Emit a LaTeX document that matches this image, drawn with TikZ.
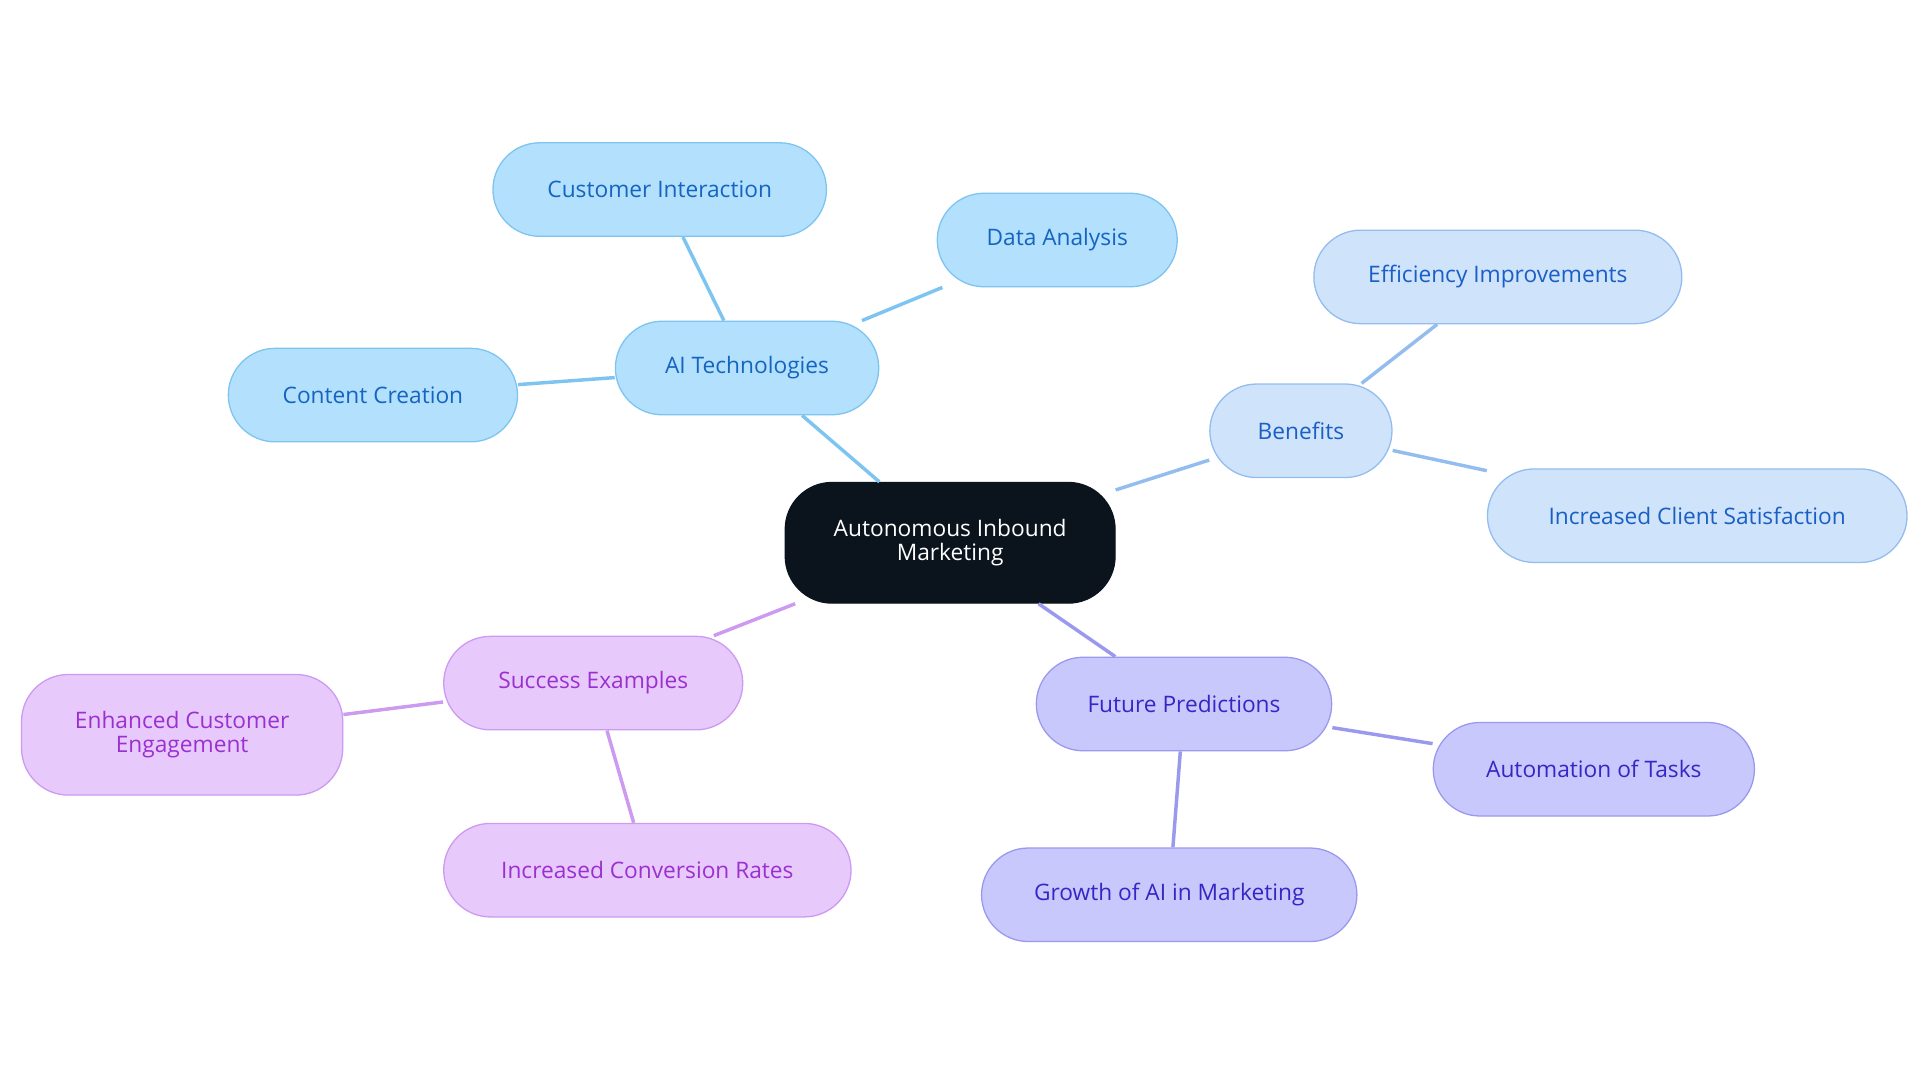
\documentclass[tikz,border=0pt]{standalone}
\usepackage{fontspec}
\setmainfont{Open Sans}
\definecolor{cfillA}{HTML}{B3E0FD}\definecolor{cdrawA}{HTML}{7EC4F0}\definecolor{ctextA}{HTML}{1565C0}
\definecolor{cfillB}{HTML}{CFE3FB}\definecolor{cdrawB}{HTML}{93BDEE}\definecolor{ctextB}{HTML}{1A5FC4}
\definecolor{cfillC}{HTML}{C9C8FD}\definecolor{cdrawC}{HTML}{9A99EE}\definecolor{ctextC}{HTML}{3527C4}
\definecolor{cfillD}{HTML}{E8C9FC}\definecolor{cdrawD}{HTML}{CC9AF0}\definecolor{ctextD}{HTML}{9B30D0}
\definecolor{cmain}{HTML}{0B131C}
\begin{document}
\begin{tikzpicture}[x=0.02cm,y=-0.02cm,
  box/.style={rounded corners=0.76cm,minimum height=1.52cm,align=center,font=\fontsize{10.5}{11}\selectfont,line width=0.6pt,inner sep=0pt},
  ba/.style={box,fill=cfillA,draw=cdrawA,text=ctextA},
  bb/.style={box,fill=cfillB,draw=cdrawB,text=ctextB},
  bc/.style={box,fill=cfillC,draw=cdrawC,text=ctextC},
  bd/.style={box,fill=cfillD,draw=cdrawD,text=ctextD},
  la/.style={line width=1.6pt,draw=cdrawA},
  lb/.style={line width=1.6pt,draw=cdrawB},
  lc/.style={line width=1.6pt,draw=cdrawC},
  ld/.style={line width=1.6pt,draw=cdrawD}]
\useasboundingbox (0,0) rectangle (1560,880);
\node[box,fill=cmain,draw=cmain,text=white,minimum width=5.36cm,minimum height=1.96cm] (m) at (772,441) {Autonomous Inbound\\Marketing};
\node[ba,minimum width=4.28cm] (ai) at (607,299) {AI Technologies};
\node[ba,minimum width=5.42cm] (ci) at (536,154) {Customer Interaction};
\node[ba,minimum width=3.9cm] (da) at (859,195) {Data Analysis};
\node[ba,minimum width=4.7cm] (cc) at (303,321) {Content Creation};
\node[bb,minimum width=2.96cm] (be) at (1057,350) {Benefits};
\node[bb,minimum width=5.98cm] (ei) at (1217,225) {Efficiency Improvements};
\node[bb,minimum width=6.82cm] (ics) at (1379,419) {Increased Client Satisfaction};
\node[bc,minimum width=4.8cm] (fp) at (962,572) {Future Predictions};
\node[bc,minimum width=5.22cm] (at) at (1295,625) {Automation of Tasks};
\node[bc,minimum width=6.1cm] (ga) at (950,727) {Growth of AI in Marketing};
\node[bd,minimum width=4.86cm] (se) at (482,555) {Success Examples};
\node[bd,minimum width=5.22cm,minimum height=1.96cm] (ece) at (148,597) {Enhanced Customer\\Engagement};
\node[bd,minimum width=6.62cm] (icr) at (526,707) {Increased Conversion Rates};
\begin{scope}[on background layer/.style={}]
\end{scope}
\begin{pgfinterruptboundingbox}\end{pgfinterruptboundingbox}
\draw[la] (m) -- (ai); \draw[la] (ai) -- (ci); \draw[la] (ai) -- (da); \draw[la] (ai) -- (cc);
\draw[lb] (m) -- (be); \draw[lb] (be) -- (ei); \draw[lb] (be) -- (ics);
\draw[lc] (m) -- (fp); \draw[lc] (fp) -- (at); \draw[lc] (fp) -- (ga);
\draw[ld] (m) -- (se); \draw[ld] (se) -- (ece); \draw[ld] (se) -- (icr);
\end{tikzpicture}
\end{document}
